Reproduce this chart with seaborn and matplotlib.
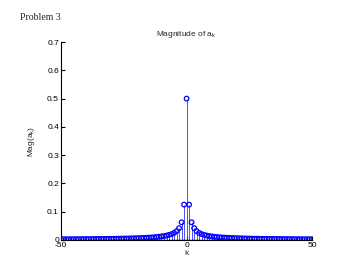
import numpy as np
import pandas as pd
import matplotlib
matplotlib.use("Agg")
import matplotlib.pyplot as plt
import seaborn as sns

# values
k_pos_mag = [0.125, 0.0625, 0.0417, 0.0313, 0.025, 0.0208, 0.0179, 0.0156, 0.0139, 0.0125,
             0.0114, 0.0104, 0.0096, 0.0089, 0.0083, 0.0078, 0.0074, 0.0069, 0.0066, 0.0063,
             0.006, 0.0057, 0.0054, 0.0052, 0.005, 0.0048, 0.0046, 0.0045, 0.0043, 0.0042,
             0.004, 0.0039, 0.0038, 0.0037, 0.0036, 0.0035, 0.0034, 0.0033, 0.0032, 0.0031,
             0.003, 0.003, 0.0029, 0.0028, 0.0028, 0.0027, 0.0026, 0.0026, 0.0026, 0.0025]
center_mag = [0.5]
k_values = list(range(-50, 51))
mag_values = k_pos_mag[::-1] + center_mag + k_pos_mag
x_ticks = [-50, 0, 50]
y_ticks = [0, 0.1, 0.2, 0.3, 0.4, 0.5, 0.6, 0.7]
y_tick_labels = ["0", "0.1", "0.2", "0.3", "0.4", "0.5", "0.6", "0.7"]

df = pd.DataFrame({"k": k_values, "mag": mag_values})

sns.set_style("ticks")
plt.rcParams['font.family'] = ['Liberation Sans', 'DejaVu Sans']
plt.rcParams['mathtext.fontset'] = 'custom'
plt.rcParams['mathtext.rm'] = 'Liberation Sans'
plt.rcParams['mathtext.it'] = 'Liberation Sans'

fig = plt.figure(figsize=(3.43, 2.73), dpi=100)
ax = fig.add_axes([0.178, 0.121, 0.732, 0.725])

blue = "#0000ff"
ax.vlines(df["k"], 0, df["mag"], color="#2f2fff", linewidth=0.6, zorder=2)
ax.plot([-50, 50], [0, 0], color="black", linewidth=1.0, zorder=3)
sns.scatterplot(data=df, x="k", y="mag", ax=ax, marker="o", s=11,
                facecolors="none", edgecolor=blue, linewidth=0.9, zorder=4, legend=False)

ax.set_xlim(-50, 50)
ax.set_ylim(0, 0.7)
ax.set_xticks(x_ticks)
ax.set_xticklabels([str(t) for t in x_ticks])
ax.set_yticks(y_ticks)
ax.set_yticklabels(y_tick_labels)
ax.tick_params(direction="in", length=3, width=0.8, labelsize=6, pad=1.5, colors="black")
ax.tick_params(axis="x", pad=1.5)
for s in ["top", "right"]:
    ax.spines[s].set_visible(False)
for s in ["left", "bottom"]:
    ax.spines[s].set_linewidth(0.8)
    ax.spines[s].set_color("black")

ax.set_title("Magnitude of a$_k$", fontsize=6, pad=4)
ax.set_xlabel("k", fontsize=6, labelpad=1)
ax.set_ylabel("Mag(a$_k$)", fontsize=6, labelpad=7)

fig.text(0.058, 0.925, "Problem 3", family=["Liberation Serif"], fontsize=7, ha="left", va="baseline")

fig.savefig("out.png", dpi=100)
